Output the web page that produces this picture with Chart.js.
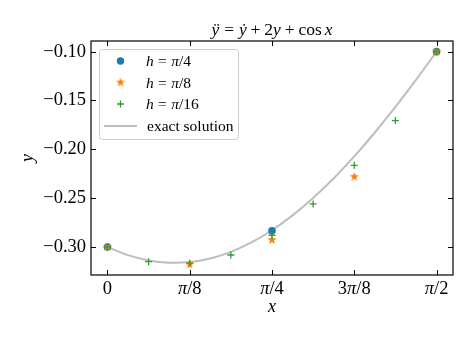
<!DOCTYPE html>
<html>
<head>
<meta charset="utf-8">
<script src="https://cdn.jsdelivr.net/npm/chart.js@4.4.0/dist/chart.umd.min.js"></script>
<style>
  html, body { margin: 0; padding: 0; background: #fff; }
  #wrap { width: 474px; height: 338px; }
</style>
</head>
<body>
<div id="wrap"><canvas id="myChart" width="474" height="338"></canvas></div>
<script>
const PI = Math.PI;

// finite differences, h = pi/4
const xCoarse = [0, 0.7854, 1.5708];
const yCoarse = [-0.3, -0.2835, -0.1];

// finite differences, h = pi/8
const xMid = [0, 0.3927, 0.7854, 1.1781, 1.5708];
const yMid = [-0.3, -0.3178, -0.2928, -0.2281, -0.1];

// finite differences, h = pi/16
const xFine = [0, 0.19635, 0.3927, 0.58905, 0.7854, 0.98175, 1.1781, 1.37445, 1.5708];
const yFine = [-0.3, -0.3151, -0.3166, -0.3082, -0.2880, -0.2559, -0.2164, -0.1706, -0.1];

// exact solution
const xExact = [0, 0.09817, 0.19635, 0.29452, 0.3927, 0.49087, 0.58905, 0.68722, 0.7854,
  0.88357, 0.98175, 1.07992, 1.1781, 1.27627, 1.37445, 1.47262, 1.5708];
const yExact = [-0.3, -0.30836, -0.31375, -0.31611, -0.31543, -0.31172, -0.305, -0.29534, -0.28284,
  -0.26762, -0.24982, -0.22961, -0.20719, -0.18278, -0.15661, -0.12892, -0.1];

const xTicks = [0, PI / 8, PI / 4, 3 * PI / 8, PI / 2];
const xTickLabels = ["0", "π/8", "π/4", "3π/8", "π/2"];
const yTicks = [-0.30, -0.25, -0.20, -0.15, -0.10];

const legendLabels = ["h=π/4", "h=π/8", "h=π/16", "exact solution"];

const BLUE = "#1f77b4", ORANGE = "#ff7f0e", GREEN = "#2ca02c", GREY = "#bdbdbd";
const SERIF = '"Liberation Serif", "Times New Roman", serif';
const TICK_SIZE = 18.5;

function pts(xs, ys) {
  return xs.map((x, i) => ({ x: x, y: ys[i] }));
}

// filled five-point star used as marker
function makeStar(r, color) {
  const c = document.createElement("canvas");
  const s = Math.ceil(r * 2 + 2);
  c.width = s; c.height = s;
  const g = c.getContext("2d");
  g.fillStyle = color;
  g.beginPath();
  for (let i = 0; i < 10; i++) {
    const rad = i % 2 === 0 ? r : r * 0.42;
    const a = -PI / 2 + i * PI / 5;
    const px = s / 2 + rad * Math.cos(a), py = s / 2 + rad * Math.sin(a);
    if (i === 0) g.moveTo(px, py); else g.lineTo(px, py);
  }
  g.closePath();
  g.fill();
  return c;
}
const starImg = makeStar(4.8, ORANGE);

// lays out a small math-like string: letters italic, digits/operators upright
function mathTokens(str) {
  const out = [];
  let i = 0;
  while (i < str.length) {
    if (str.startsWith("cos", i)) { out.push({ t: "cos", it: false, pre: 0, post: 0.17 }); i += 3; continue; }
    const ch = str[i];
    if (ch === " ") { i++; continue; }
    if (ch === "=") out.push({ t: "=", it: false, pre: 0.28, post: 0.28 });
    else if (ch === "+") out.push({ t: "+", it: false, pre: 0.22, post: 0.22 });
    else if (/[a-zA-Zπÿẏ]/.test(ch)) out.push({ t: ch, it: true, pre: 0, post: 0 });
    else out.push({ t: ch, it: false, pre: 0, post: 0 });
    i++;
  }
  return out;
}

function drawMath(ctx, str, x, y, size, align) {
  const toks = mathTokens(str);
  let w = 0;
  toks.forEach(k => {
    ctx.font = (k.it ? "italic " : "") + size + "px " + SERIF;
    k.w = ctx.measureText(k.t).width;
    w += k.w + (k.pre + k.post) * size;
  });
  let cx = align === "center" ? x - w / 2 : align === "right" ? x - w : x;
  ctx.textAlign = "left";
  toks.forEach(k => {
    ctx.font = (k.it ? "italic " : "") + size + "px " + SERIF;
    cx += k.pre * size;
    ctx.fillText(k.t, cx, y);
    cx += k.w + k.post * size;
  });
}

const decor = {
  id: "decor",
  afterDraw(chart) {
    const { ctx, chartArea: a, scales: { x, y } } = chart;
    ctx.save();

    // frame and inward ticks on all four sides
    ctx.strokeStyle = "#000";
    ctx.lineWidth = 1.2;
    ctx.strokeRect(a.left, a.top, a.right - a.left, a.bottom - a.top);
    ctx.lineWidth = 1;
    ctx.beginPath();
    xTicks.forEach(v => {
      const px = Math.round(x.getPixelForValue(v)) + 0.5;
      ctx.moveTo(px, a.bottom); ctx.lineTo(px, a.bottom - 5);
      ctx.moveTo(px, a.top); ctx.lineTo(px, a.top + 5);
    });
    yTicks.forEach(v => {
      const py = Math.round(y.getPixelForValue(v)) + 0.5;
      ctx.moveTo(a.left, py); ctx.lineTo(a.left + 5, py);
      ctx.moveTo(a.right, py); ctx.lineTo(a.right - 5, py);
    });
    ctx.stroke();

    ctx.fillStyle = "#000";
    ctx.textBaseline = "alphabetic";

    // x tick labels
    xTicks.forEach((v, i) => {
      drawMath(ctx, xTickLabels[i], x.getPixelForValue(v), a.bottom + 19, TICK_SIZE, "center");
    });

    // axis titles
    const midX = (a.left + a.right) / 2;
    drawMath(ctx, "x", midX, a.bottom + 37, 18, "center");
    ctx.save();
    ctx.translate(33, (a.top + a.bottom) / 2);
    ctx.rotate(-PI / 2);
    drawMath(ctx, "y", 0, 0, 18, "center");
    ctx.restore();

    // title
    drawMath(ctx, "ÿ = ẏ + 2y + cos x", midX, 35, 17.5, "center");

    // legend
    const lx = 99.5, ly = 49.5, lw = 139, lh = 90;
    ctx.beginPath();
    ctx.roundRect(lx, ly, lw, lh, 3);
    ctx.fillStyle = "rgba(255,255,255,0.8)";
    ctx.fill();
    ctx.strokeStyle = "#cccccc";
    ctx.lineWidth = 1;
    ctx.stroke();

    const rows = [61, 82.5, 104, 126];
    const mx = 120.5;
    // circle
    ctx.fillStyle = BLUE;
    ctx.beginPath(); ctx.arc(mx, rows[0], 3.7, 0, 2 * PI); ctx.fill();
    // star
    ctx.drawImage(starImg, mx - starImg.width / 2, rows[1] - starImg.height / 2);
    // plus
    ctx.strokeStyle = GREEN; ctx.lineWidth = 1.3;
    ctx.beginPath();
    ctx.moveTo(mx - 3.5, rows[2]); ctx.lineTo(mx + 3.5, rows[2]);
    ctx.moveTo(mx, rows[2] - 3.5); ctx.lineTo(mx, rows[2] + 3.5);
    ctx.stroke();
    // line sample
    ctx.strokeStyle = GREY; ctx.lineWidth = 2;
    ctx.beginPath(); ctx.moveTo(104, rows[3]); ctx.lineTo(137, rows[3]); ctx.stroke();

    ctx.fillStyle = "#000";
    for (let i = 0; i < 3; i++) drawMath(ctx, legendLabels[i], 146, rows[i] + 5, 15.5, "left");
    ctx.font = "15.5px " + SERIF;
    ctx.textAlign = "left";
    ctx.fillText(legendLabels[3], 147, rows[3] + 5);

    ctx.restore();
  }
};

const ctx = document.getElementById("myChart").getContext("2d");
const chart = new Chart(ctx, {
  type: "scatter",
  data: {
    datasets: [
      {
        label: legendLabels[2],
        data: pts(xFine, yFine),
        pointStyle: "cross",
        pointRadius: 3.5,
        borderColor: GREEN,
        backgroundColor: GREEN,
        pointBorderWidth: 1.3,
      },
      {
        label: legendLabels[1],
        data: pts(xMid, yMid),
        pointStyle: starImg,
        pointRadius: 4.8,
        borderColor: ORANGE,
        backgroundColor: ORANGE,
      },
      {
        label: legendLabels[0],
        data: pts(xCoarse, yCoarse),
        pointStyle: "circle",
        pointRadius: 3.8,
        borderWidth: 0,
        borderColor: BLUE,
        backgroundColor: BLUE,
      },
      {
        label: legendLabels[3],
        data: pts(xExact, yExact),
        showLine: true,
        tension: 0.3,
        pointRadius: 0,
        borderColor: GREY,
        borderWidth: 2,
      },
    ],
  },
  options: {
    responsive: false,
    animation: false,
    layout: { padding: { top: 41, right: 21, left: 0, bottom: 0 } },
    plugins: {
      legend: { display: false },
      tooltip: { enabled: false },
    },
    scales: {
      x: {
        type: "linear",
        min: -0.0785,
        max: 1.6493,
        grid: { display: false },
        border: { display: false },
        ticks: { display: false },
        afterFit: (s) => { s.height = 63; },
      },
      y: {
        type: "linear",
        min: -0.3287,
        max: -0.0891,
        grid: { display: false, drawTicks: false },
        border: { display: false },
        afterBuildTicks: (s) => { s.ticks = yTicks.map(v => ({ value: v })); },
        ticks: {
          padding: 5,
          color: "#000",
          font: { family: SERIF, size: TICK_SIZE },
          callback: (v) => "\u2212" + Math.abs(v).toFixed(2),
        },
        afterFit: (s) => { s.width = 91; },
      },
    },
  },
  plugins: [decor],
});
</script>
</body>
</html>
